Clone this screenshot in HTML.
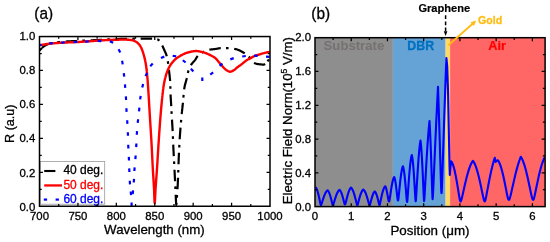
<!DOCTYPE html>
<html lang="en"><head><meta charset="utf-8"><title>Figure</title>
<style>html,body{margin:0;padding:0;background:#fff;width:550px;height:242px;overflow:hidden}</style>
</head><body>
<svg width="550" height="242" viewBox="0 0 550 242" style="display:block;position:absolute;left:0;top:0;filter:blur(0.35px)">
<rect width="550" height="242" fill="#fff"/>
<g transform="matrix(1,0,0,1.003,0,-0.111)">
<clipPath id="ca"><rect x="39.5" y="36.55" width="230.5" height="169.2"/></clipPath>
<g clip-path="url(#ca)">
<path d="M39.50,50.50 L39.82,50.10 L40.15,49.71 L40.48,49.33 L40.83,48.96 L41.18,48.60 L41.54,48.25 L41.90,47.91 L42.27,47.58 L42.65,47.27 L43.04,46.97 L43.43,46.68 L43.84,46.39 L44.25,46.11 L44.68,45.83 L45.11,45.56 L45.54,45.30 L45.99,45.05 L46.43,44.81 L46.89,44.59 L47.34,44.38 L47.80,44.19 L48.26,44.01 L48.72,43.86 L49.19,43.71 L49.66,43.56 L50.15,43.42 L50.63,43.29 L51.12,43.17 L51.61,43.05 L52.11,42.94 L52.60,42.84 L53.09,42.75 L53.59,42.66 L54.08,42.59 L54.57,42.52 L55.06,42.45 L55.56,42.39 L56.05,42.33 L56.55,42.27 L57.05,42.21 L57.54,42.16 L58.04,42.11 L58.54,42.06 L59.04,42.02 L59.54,41.97 L60.04,41.93 L60.54,41.89 L61.04,41.85 L61.53,41.81 L62.03,41.77 L62.53,41.73 L63.03,41.70 L63.53,41.66 L64.03,41.63 L64.53,41.60 L65.02,41.56 L65.52,41.53 L66.02,41.50 L66.52,41.47 L67.02,41.44 L67.52,41.41 L68.02,41.38 L68.51,41.36 L69.01,41.33 L69.51,41.30 L70.01,41.28 L70.51,41.25 L71.01,41.23 L71.51,41.20 L72.01,41.18 L72.51,41.15 L73.01,41.13 L73.51,41.10 L74.01,41.08 L74.51,41.06 L75.00,41.03 L75.50,41.01 L76.00,40.99 L76.50,40.97 L77.00,40.94 L77.50,40.92 L78.00,40.90 L78.50,40.87 L79.00,40.85 L79.50,40.82 L80.00,40.80 L80.50,40.78 L81.00,40.75 L81.49,40.73 L81.99,40.70 L82.49,40.68 L82.99,40.66 L83.49,40.64 L83.99,40.61 L84.49,40.59 L84.99,40.57 L85.49,40.55 L85.99,40.52 L86.49,40.50 L86.99,40.48 L87.49,40.46 L87.98,40.44 L88.48,40.42 L88.98,40.39 L89.48,40.37 L89.98,40.35 L90.48,40.33 L90.98,40.31 L91.48,40.29 L91.98,40.27 L92.48,40.24 L92.98,40.22 L93.48,40.20 L93.98,40.18 L94.47,40.16 L94.97,40.13 L95.47,40.11 L95.97,40.09 L96.47,40.07 L96.97,40.04 L97.47,40.02 L97.97,40.00 L98.47,39.97 L98.97,39.95 L99.47,39.93 L99.97,39.90 L100.46,39.88 L100.96,39.85 L101.46,39.82 L101.96,39.80 L102.46,39.77 L102.96,39.74 L103.46,39.71 L103.96,39.68 L104.46,39.65 L104.96,39.62 L105.45,39.59 L105.95,39.56 L106.45,39.53 L106.95,39.50 L107.45,39.47 L107.95,39.44 L108.45,39.41 L108.95,39.38 L109.45,39.35 L109.94,39.32 L110.44,39.30 L110.94,39.27 L111.44,39.24 L111.94,39.22 L112.44,39.20 L112.94,39.17 L113.44,39.15 L113.94,39.14 L114.44,39.12 L114.94,39.10 L115.43,39.09 L115.93,39.07 L116.43,39.06 L116.93,39.04 L117.43,39.03 L117.93,39.02 L118.43,39.00 L118.93,38.99 L119.43,38.98 L119.93,38.97 L120.43,38.96 L120.93,38.94 L121.43,38.93 L121.93,38.92 L122.43,38.91 L122.93,38.90 L123.43,38.89 L123.93,38.88 L124.43,38.87 L124.93,38.86 L125.43,38.85 L125.93,38.84 L126.42,38.83 L126.92,38.82 L127.42,38.81 L127.92,38.80 L128.42,38.80 L128.92,38.79 L129.42,38.78 L129.92,38.77 L130.42,38.76 L130.92,38.76 L131.42,38.75 L131.92,38.74 L132.42,38.73 L132.92,38.73 L133.42,38.72 L133.92,38.71 L134.42,38.71 L134.92,38.70 L135.42,38.69 L135.92,38.69 L136.42,38.68 L136.92,38.67 L137.42,38.67 L137.92,38.66 L138.42,38.65 L138.92,38.65 L139.42,38.64 L139.92,38.63 L140.42,38.63 L140.92,38.62 L141.42,38.62 L141.92,38.61 L142.42,38.61 L142.91,38.61 L143.41,38.60 L143.91,38.60 L144.41,38.60 L144.91,38.60 L145.41,38.60 L145.91,38.60 L146.41,38.60 L146.91,38.61 L147.41,38.61 L147.91,38.62 L148.41,38.63 L148.91,38.63 L149.41,38.64 L149.91,38.65 L150.41,38.66 L150.91,38.67 L151.41,38.69 L151.91,38.70 L152.41,38.71 L152.92,38.74 L153.43,38.76 L153.94,38.80 L154.45,38.85 L154.96,38.90 L155.46,38.96 L155.95,39.02 L156.43,39.10 L156.89,39.18 L157.35,39.29 L157.80,39.48 L158.26,39.73 L158.70,40.02 L159.12,40.35 L159.51,40.70 L159.86,41.05 L160.16,41.39 L160.44,41.77 L160.69,42.19 L160.92,42.63 L161.15,43.09 L161.36,43.56 L161.57,44.04 L161.78,44.51 L161.99,44.98 L162.21,45.43 L162.43,45.88 L162.64,46.33 L162.85,46.78 L163.06,47.23 L163.27,47.69 L163.48,48.14 L163.68,48.60 L163.89,49.06 L164.09,49.51 L164.29,49.97 L164.49,50.43 L164.70,50.89 L164.91,51.34 L165.12,51.80 L165.33,52.26 L165.53,52.72 L165.73,53.18 L165.92,53.64 L166.10,54.10 L166.27,54.57 L166.42,55.04 L166.56,55.52 L166.69,55.99 L166.81,56.48 L166.93,56.96 L167.05,57.44 L167.16,57.93 L167.26,58.42 L167.36,58.91 L167.46,59.41 L167.56,59.90 L167.65,60.40 L167.73,60.89 L167.82,61.38 L167.90,61.88 L167.98,62.37 L168.06,62.86 L168.13,63.36 L168.20,63.85 L168.27,64.35 L168.34,64.84 L168.40,65.34 L168.47,65.83 L168.53,66.33 L168.59,66.82 L168.65,67.32 L168.71,67.82 L168.76,68.32 L168.82,68.81 L168.88,69.31 L168.93,69.81 L168.99,70.30 L169.05,70.80 L169.10,71.30 L169.16,71.79 L169.22,72.29 L169.28,72.78 L169.34,73.28 L169.40,73.78 L169.46,74.28 L169.52,74.77 L169.57,75.27 L169.63,75.77 L169.69,76.26 L169.74,76.76 L169.79,77.26 L169.85,77.75 L169.90,78.25 L169.94,78.75 L169.99,79.25 L170.03,79.74 L170.07,80.24 L170.11,80.74 L170.14,81.24 L170.17,81.74 L170.20,82.23 L170.22,82.73 L170.24,83.23 L170.26,83.73 L170.28,84.23 L170.30,84.73 L170.32,85.23 L170.33,85.73 L170.35,86.23 L170.36,86.73 L170.37,87.23 L170.39,87.73 L170.40,88.23 L170.41,88.72 L170.43,89.22 L170.44,89.72 L170.45,90.22 L170.46,90.72 L170.48,91.22 L170.49,91.72 L170.50,92.22 L170.52,92.72 L170.53,93.22 L170.55,93.72 L170.57,94.22 L170.59,94.72 L170.61,95.22 L170.63,95.72 L170.65,96.22 L170.68,96.72 L170.71,97.22 L170.73,97.72 L170.76,98.21 L170.79,98.71 L170.82,99.21 L170.85,99.71 L170.88,100.21 L170.91,100.71 L170.94,101.21 L170.98,101.71 L171.01,102.20 L171.04,102.70 L171.07,103.20 L171.10,103.70 L171.14,104.20 L171.17,104.70 L171.20,105.20 L171.23,105.70 L171.26,106.19 L171.29,106.69 L171.32,107.19 L171.34,107.69 L171.37,108.19 L171.40,108.69 L171.43,109.19 L171.45,109.69 L171.48,110.19 L171.51,110.69 L171.53,111.18 L171.56,111.68 L171.59,112.18 L171.61,112.68 L171.64,113.18 L171.67,113.68 L171.69,114.18 L171.72,114.68 L171.75,115.18 L171.77,115.68 L171.80,116.17 L171.83,116.67 L171.85,117.17 L171.88,117.67 L171.91,118.17 L171.94,118.67 L171.96,119.17 L171.99,119.67 L172.02,120.17 L172.05,120.66 L172.08,121.16 L172.11,121.66 L172.14,122.16 L172.17,122.66 L172.20,123.16 L172.23,123.66 L172.26,124.16 L172.29,124.66 L172.32,125.15 L172.35,125.65 L172.39,126.15 L172.42,126.65 L172.45,127.15 L172.48,127.65 L172.51,128.15 L172.54,128.65 L172.56,129.14 L172.59,129.64 L172.62,130.14 L172.65,130.64 L172.67,131.14 L172.70,131.64 L172.72,132.14 L172.75,132.64 L172.77,133.14 L172.79,133.64 L172.81,134.14 L172.83,134.63 L172.86,135.13 L172.88,135.63 L172.90,136.13 L172.92,136.63 L172.94,137.13 L172.96,137.63 L172.98,138.13 L173.00,138.63 L173.02,139.13 L173.04,139.63 L173.06,140.13 L173.07,140.63 L173.09,141.13 L173.11,141.62 L173.13,142.12 L173.15,142.62 L173.17,143.12 L173.20,143.62 L173.22,144.12 L173.24,144.62 L173.26,145.12 L173.28,145.62 L173.31,146.12 L173.33,146.62 L173.35,147.12 L173.38,147.62 L173.40,148.11 L173.43,148.61 L173.45,149.11 L173.48,149.61 L173.50,150.11 L173.53,150.61 L173.55,151.11 L173.58,151.61 L173.60,152.11 L173.63,152.61 L173.66,153.11 L173.68,153.60 L173.71,154.10 L173.74,154.60 L173.76,155.10 L173.79,155.60 L173.82,156.10 L173.84,156.60 L173.87,157.10 L173.90,157.60 L173.92,158.10 L173.95,158.59 L173.98,159.09 L174.00,159.59 L174.03,160.09 L174.06,160.59 L174.08,161.09 L174.11,161.59 L174.13,162.09 L174.16,162.59 L174.18,163.09 L174.21,163.58 L174.23,164.08 L174.26,164.58 L174.28,165.08 L174.31,165.58 L174.34,166.08 L174.36,166.58 L174.39,167.08 L174.41,167.58 L174.44,168.08 L174.46,168.58 L174.49,169.07 L174.51,169.57 L174.53,170.07 L174.56,170.57 L174.58,171.07 L174.61,171.57 L174.63,172.07 L174.66,172.57 L174.68,173.07 L174.71,173.57 L174.73,174.07 L174.76,174.56 L174.78,175.06 L174.81,175.56 L174.83,176.06 L174.85,176.56 L174.88,177.06 L174.90,177.56 L174.93,178.06 L174.95,178.56 L174.97,179.06 L175.00,179.56 L175.02,180.06 L175.05,180.55 L175.07,181.05 L175.09,181.55 L175.12,182.05 L175.14,182.55 L175.16,183.05 L175.18,183.55 L175.21,184.05 L175.23,184.55 L175.25,185.05 L175.27,185.55 L175.29,186.05 L175.31,186.55 L175.33,187.04 L175.35,187.54 L175.37,188.04 L175.40,188.54 L175.42,189.04 L175.44,189.54 L175.46,190.04 L175.48,190.54 L175.50,191.04 L175.53,191.54 L175.55,192.04 L175.57,192.54 L175.60,193.04 L175.62,193.53 L175.65,194.03 L175.67,194.53 L175.70,195.03 L175.73,195.56 L175.76,196.13 L175.79,196.74 L175.82,197.38 L175.85,198.03 L175.88,198.70 L175.92,199.36 L175.95,200.01 L175.98,200.65 L176.02,201.26 L176.05,201.83 L176.09,202.35 L176.12,202.82 L176.16,203.22 L176.19,203.55 L176.23,203.79 L176.27,203.95 L176.30,204.00 L176.34,203.96 L176.37,203.84 L176.41,203.65 L176.44,203.39 L176.48,203.07 L176.52,202.69 L176.56,202.26 L176.59,201.79 L176.63,201.27 L176.67,200.71 L176.71,200.13 L176.75,199.52 L176.78,198.89 L176.82,198.24 L176.86,197.58 L176.90,196.92 L176.94,196.25 L176.97,195.59 L177.01,194.95 L177.05,194.31 L177.09,193.70 L177.12,193.11 L177.16,192.56 L177.20,192.03 L177.23,191.54 L177.27,191.04 L177.31,190.54 L177.35,190.04 L177.39,189.54 L177.43,189.04 L177.46,188.55 L177.50,188.05 L177.54,187.55 L177.57,187.05 L177.61,186.55 L177.64,186.05 L177.67,185.56 L177.70,185.06 L177.72,184.56 L177.75,184.06 L177.77,183.56 L177.80,183.06 L177.82,182.56 L177.84,182.06 L177.87,181.56 L177.89,181.06 L177.91,180.56 L177.93,180.07 L177.95,179.57 L177.97,179.07 L177.99,178.57 L178.01,178.07 L178.03,177.57 L178.04,177.07 L178.06,176.57 L178.08,176.07 L178.10,175.57 L178.12,175.07 L178.13,174.57 L178.15,174.07 L178.17,173.57 L178.19,173.07 L178.21,172.57 L178.22,172.07 L178.24,171.58 L178.26,171.08 L178.28,170.58 L178.30,170.08 L178.32,169.58 L178.33,169.08 L178.35,168.58 L178.37,168.08 L178.39,167.58 L178.40,167.08 L178.42,166.58 L178.44,166.08 L178.46,165.58 L178.47,165.08 L178.49,164.58 L178.51,164.08 L178.52,163.58 L178.54,163.09 L178.56,162.59 L178.57,162.09 L178.59,161.59 L178.61,161.09 L178.63,160.59 L178.64,160.09 L178.66,159.59 L178.68,159.09 L178.70,158.59 L178.72,158.09 L178.74,157.59 L178.76,157.09 L178.78,156.59 L178.80,156.09 L178.82,155.59 L178.84,155.10 L178.86,154.60 L178.88,154.10 L178.91,153.60 L178.93,153.10 L178.96,152.60 L178.98,152.10 L179.01,151.60 L179.03,151.10 L179.06,150.60 L179.08,150.10 L179.11,149.61 L179.14,149.11 L179.16,148.61 L179.19,148.11 L179.22,147.61 L179.24,147.11 L179.27,146.61 L179.29,146.11 L179.32,145.61 L179.35,145.11 L179.37,144.61 L179.40,144.12 L179.42,143.62 L179.45,143.12 L179.48,142.62 L179.50,142.12 L179.53,141.62 L179.56,141.12 L179.59,140.62 L179.61,140.12 L179.64,139.63 L179.67,139.13 L179.70,138.63 L179.74,138.13 L179.77,137.63 L179.80,137.13 L179.83,136.63 L179.87,136.13 L179.90,135.64 L179.94,135.14 L179.97,134.64 L180.01,134.14 L180.04,133.64 L180.08,133.14 L180.12,132.65 L180.15,132.15 L180.19,131.65 L180.23,131.15 L180.27,130.65 L180.31,130.15 L180.35,129.66 L180.38,129.16 L180.42,128.66 L180.46,128.16 L180.50,127.66 L180.54,127.16 L180.58,126.67 L180.63,126.17 L180.67,125.67 L180.71,125.17 L180.76,124.68 L180.80,124.18 L180.85,123.68 L180.89,123.18 L180.94,122.68 L180.98,122.19 L181.02,121.69 L181.07,121.19 L181.11,120.69 L181.15,120.20 L181.19,119.70 L181.23,119.20 L181.27,118.70 L181.31,118.20 L181.35,117.70 L181.39,117.21 L181.43,116.71 L181.47,116.21 L181.52,115.71 L181.56,115.22 L181.61,114.72 L181.66,114.22 L181.70,113.72 L181.76,113.23 L181.81,112.73 L181.86,112.23 L181.92,111.74 L181.97,111.24 L182.03,110.74 L182.08,110.25 L182.14,109.75 L182.20,109.25 L182.26,108.76 L182.31,108.26 L182.37,107.76 L182.43,107.27 L182.49,106.77 L182.54,106.27 L182.60,105.78 L182.65,105.28 L182.71,104.78 L182.76,104.29 L182.81,103.79 L182.86,103.29 L182.91,102.80 L182.96,102.30 L183.00,101.80 L183.05,101.30 L183.09,100.80 L183.13,100.31 L183.17,99.81 L183.21,99.31 L183.25,98.81 L183.30,98.31 L183.34,97.82 L183.38,97.32 L183.42,96.82 L183.47,96.32 L183.52,95.83 L183.56,95.33 L183.61,94.83 L183.65,94.33 L183.70,93.83 L183.74,93.33 L183.79,92.83 L183.84,92.34 L183.88,91.84 L183.93,91.34 L183.99,90.84 L184.04,90.35 L184.10,89.85 L184.16,89.36 L184.22,88.86 L184.29,88.37 L184.36,87.88 L184.45,87.39 L184.54,86.90 L184.63,86.41 L184.74,85.92 L184.85,85.44 L184.96,84.95 L185.08,84.47 L185.21,83.98 L185.34,83.50 L185.47,83.01 L185.60,82.53 L185.73,82.05 L185.87,81.56 L186.00,81.08 L186.13,80.60 L186.26,80.11 L186.39,79.63 L186.52,79.14 L186.65,78.66 L186.77,78.17 L186.88,77.69 L186.99,77.20 L187.09,76.71 L187.19,76.22 L187.29,75.72 L187.38,75.23 L187.48,74.73 L187.57,74.24 L187.67,73.75 L187.77,73.25 L187.87,72.77 L187.98,72.28 L188.10,71.80 L188.22,71.32 L188.36,70.84 L188.50,70.37 L188.66,69.90 L188.83,69.44 L189.01,68.97 L189.21,68.50 L189.41,68.04 L189.62,67.58 L189.84,67.12 L190.07,66.67 L190.31,66.22 L190.55,65.78 L190.79,65.35 L191.04,64.92 L191.30,64.50 L191.57,64.09 L191.85,63.69 L192.16,63.30 L192.48,62.92 L192.81,62.54 L193.14,62.16 L193.48,61.79 L193.82,61.41 L194.15,61.03 L194.48,60.65 L194.80,60.26 L195.10,59.87 L195.39,59.45 L195.67,59.03 L195.94,58.60 L196.21,58.16 L196.47,57.72 L196.74,57.29 L197.01,56.86 L197.28,56.43 L197.56,56.02 L197.86,55.63 L198.17,55.26 L198.49,54.91 L198.84,54.58 L199.21,54.26 L199.60,53.95 L200.01,53.65 L200.43,53.37 L200.87,53.09 L201.31,52.83 L201.75,52.59 L202.19,52.36 L202.63,52.14 L203.07,51.92 L203.52,51.71 L203.98,51.50 L204.44,51.29 L204.90,51.09 L205.37,50.90 L205.84,50.71 L206.32,50.53 L206.80,50.36 L207.28,50.20 L207.76,50.05 L208.24,49.92 L208.72,49.80 L209.21,49.69 L209.69,49.60 L210.18,49.52 L210.67,49.46 L211.16,49.40 L211.66,49.34 L212.16,49.29 L212.66,49.25 L213.16,49.20 L213.66,49.15 L214.16,49.10 L214.66,49.04 L215.15,48.98 L215.65,48.91 L216.14,48.82 L216.63,48.73 L217.13,48.64 L217.62,48.54 L218.11,48.45 L218.61,48.36 L219.10,48.28 L219.60,48.21 L220.09,48.16 L220.59,48.12 L221.08,48.10 L221.58,48.09 L222.08,48.07 L222.58,48.06 L223.08,48.05 L223.58,48.04 L224.08,48.04 L224.58,48.03 L225.08,48.02 L225.58,48.02 L226.08,48.01 L226.58,48.01 L227.08,48.00 L227.58,48.00 L228.08,48.00 L228.58,48.00 L229.08,48.01 L229.58,48.04 L230.08,48.08 L230.58,48.13 L231.08,48.19 L231.58,48.26 L232.08,48.34 L232.58,48.43 L233.07,48.52 L233.57,48.62 L234.06,48.72 L234.54,48.82 L235.03,48.93 L235.51,49.03 L235.98,49.14 L236.46,49.26 L236.93,49.40 L237.40,49.55 L237.87,49.72 L238.34,49.89 L238.81,50.08 L239.27,50.28 L239.74,50.49 L240.20,50.71 L240.65,50.94 L241.11,51.17 L241.56,51.41 L242.00,51.65 L242.44,51.90 L242.88,52.15 L243.31,52.41 L243.74,52.66 L244.16,52.92 L244.58,53.17 L244.99,53.44 L245.40,53.73 L245.81,54.02 L246.21,54.33 L246.61,54.64 L247.00,54.96 L247.38,55.29 L247.76,55.62 L248.13,55.96 L248.49,56.31 L248.85,56.65 L249.19,57.01 L249.52,57.39 L249.83,57.80 L250.14,58.23 L250.43,58.67 L250.72,59.11 L251.01,59.56 L251.30,60.00 L251.59,60.43 L251.89,60.85 L252.19,61.24 L252.51,61.61 L252.85,61.94 L253.20,62.23 L253.57,62.48 L253.97,62.70 L254.40,62.91 L254.85,63.11 L255.32,63.30 L255.81,63.47 L256.31,63.63 L256.82,63.76 L257.32,63.88 L257.81,63.97 L258.30,64.04 L258.79,64.11 L259.29,64.18 L259.79,64.24 L260.29,64.29 L260.80,64.35 L261.30,64.39 L261.80,64.43 L262.30,64.46 L262.80,64.48 L263.29,64.50 L263.78,64.50 L264.26,64.40 L264.73,64.21 L265.20,64.00" fill="none" stroke="#000" stroke-width="2.2" stroke-dasharray="11.5 5.2 2.6 5.7" stroke-dashoffset="21.3"/>
<path d="M39.5,50.5L42.0,47.9" stroke="#000" stroke-width="2.1" fill="none"/>
<path d="M39.50,45.20 L39.99,45.12 L40.49,45.05 L40.98,44.97 L41.48,44.89 L41.97,44.81 L42.46,44.74 L42.96,44.66 L43.45,44.58 L43.94,44.51 L44.44,44.43 L44.93,44.35 L45.43,44.27 L45.92,44.19 L46.41,44.11 L46.91,44.03 L47.40,43.96 L47.90,43.89 L48.39,43.82 L48.89,43.77 L49.38,43.71 L49.88,43.66 L50.38,43.60 L50.87,43.55 L51.37,43.50 L51.87,43.45 L52.37,43.40 L52.86,43.35 L53.36,43.31 L53.86,43.26 L54.36,43.22 L54.86,43.18 L55.35,43.13 L55.85,43.09 L56.35,43.05 L56.85,43.02 L57.35,42.98 L57.85,42.94 L58.35,42.91 L58.84,42.87 L59.34,42.84 L59.84,42.81 L60.34,42.78 L60.84,42.75 L61.34,42.72 L61.84,42.69 L62.34,42.67 L62.83,42.64 L63.33,42.61 L63.83,42.59 L64.33,42.57 L64.83,42.54 L65.33,42.52 L65.83,42.50 L66.33,42.48 L66.83,42.45 L67.33,42.43 L67.83,42.41 L68.33,42.39 L68.83,42.37 L69.33,42.35 L69.83,42.33 L70.33,42.31 L70.82,42.29 L71.32,42.27 L71.82,42.25 L72.32,42.23 L72.82,42.21 L73.32,42.19 L73.82,42.17 L74.32,42.15 L74.82,42.13 L75.32,42.11 L75.82,42.09 L76.32,42.06 L76.82,42.04 L77.32,42.02 L77.82,41.99 L78.32,41.97 L78.82,41.94 L79.31,41.92 L79.81,41.89 L80.31,41.86 L80.81,41.83 L81.31,41.80 L81.81,41.77 L82.31,41.74 L82.81,41.71 L83.31,41.68 L83.80,41.64 L84.30,41.61 L84.80,41.58 L85.30,41.54 L85.80,41.51 L86.30,41.47 L86.80,41.44 L87.29,41.40 L87.79,41.37 L88.29,41.33 L88.79,41.30 L89.29,41.26 L89.79,41.22 L90.29,41.19 L90.78,41.15 L91.28,41.11 L91.78,41.08 L92.28,41.04 L92.78,41.00 L93.28,40.97 L93.78,40.93 L94.27,40.89 L94.77,40.86 L95.27,40.82 L95.77,40.79 L96.27,40.75 L96.77,40.72 L97.27,40.68 L97.76,40.65 L98.26,40.61 L98.76,40.58 L99.26,40.55 L99.76,40.52 L100.26,40.48 L100.76,40.45 L101.26,40.42 L101.75,40.38 L102.25,40.35 L102.75,40.31 L103.25,40.28 L103.75,40.24 L104.25,40.21 L104.75,40.18 L105.25,40.14 L105.74,40.11 L106.24,40.08 L106.74,40.05 L107.24,40.02 L107.74,40.00 L108.24,39.97 L108.74,39.95 L109.24,39.93 L109.74,39.91 L110.24,39.89 L110.74,39.88 L111.24,39.86 L111.73,39.85 L112.23,39.83 L112.73,39.82 L113.23,39.80 L113.73,39.79 L114.23,39.77 L114.73,39.76 L115.23,39.75 L115.73,39.73 L116.23,39.72 L116.73,39.71 L117.23,39.70 L117.73,39.69 L118.23,39.68 L118.73,39.67 L119.23,39.66 L119.73,39.65 L120.23,39.64 L120.73,39.63 L121.23,39.62 L121.73,39.62 L122.23,39.61 L122.73,39.61 L123.23,39.61 L123.73,39.60 L124.23,39.60 L124.73,39.60 L125.23,39.60 L125.73,39.61 L126.23,39.62 L126.74,39.64 L127.25,39.67 L127.75,39.70 L128.26,39.74 L128.76,39.78 L129.27,39.82 L129.77,39.88 L130.26,39.93 L130.76,39.99 L131.25,40.05 L131.73,40.12 L132.21,40.19 L132.68,40.27 L133.16,40.40 L133.64,40.56 L134.11,40.75 L134.58,40.97 L135.04,41.21 L135.49,41.46 L135.93,41.72 L136.35,41.99 L136.75,42.26 L137.13,42.54 L137.51,42.85 L137.89,43.18 L138.26,43.53 L138.61,43.90 L138.96,44.29 L139.29,44.68 L139.61,45.09 L139.91,45.50 L140.19,45.91 L140.45,46.32 L140.70,46.74 L140.93,47.17 L141.15,47.61 L141.36,48.06 L141.57,48.51 L141.77,48.98 L141.95,49.45 L142.14,49.92 L142.31,50.40 L142.48,50.88 L142.65,51.36 L142.81,51.84 L142.97,52.31 L143.13,52.78 L143.28,53.26 L143.43,53.73 L143.57,54.21 L143.72,54.69 L143.85,55.17 L143.99,55.66 L144.12,56.14 L144.25,56.62 L144.38,57.11 L144.50,57.60 L144.62,58.08 L144.73,58.57 L144.84,59.06 L144.95,59.54 L145.05,60.03 L145.15,60.52 L145.25,61.01 L145.34,61.50 L145.44,61.99 L145.53,62.48 L145.62,62.97 L145.71,63.47 L145.79,63.96 L145.88,64.45 L145.96,64.95 L146.04,65.44 L146.12,65.94 L146.19,66.43 L146.26,66.93 L146.33,67.42 L146.40,67.92 L146.46,68.41 L146.53,68.91 L146.59,69.40 L146.64,69.90 L146.70,70.39 L146.76,70.89 L146.81,71.39 L146.87,71.88 L146.92,72.38 L146.97,72.88 L147.02,73.38 L147.07,73.87 L147.11,74.37 L147.16,74.87 L147.21,75.37 L147.25,75.87 L147.29,76.36 L147.34,76.86 L147.38,77.36 L147.42,77.86 L147.47,78.36 L147.51,78.86 L147.55,79.35 L147.59,79.85 L147.63,80.35 L147.67,80.85 L147.71,81.35 L147.74,81.84 L147.78,82.34 L147.82,82.84 L147.85,83.34 L147.89,83.84 L147.92,84.34 L147.96,84.84 L147.99,85.33 L148.03,85.83 L148.06,86.33 L148.09,86.83 L148.13,87.33 L148.16,87.83 L148.19,88.33 L148.22,88.83 L148.26,89.32 L148.29,89.82 L148.32,90.32 L148.35,90.82 L148.39,91.32 L148.42,91.82 L148.45,92.32 L148.48,92.82 L148.51,93.31 L148.54,93.81 L148.58,94.31 L148.61,94.81 L148.64,95.31 L148.67,95.81 L148.70,96.31 L148.73,96.81 L148.76,97.31 L148.79,97.80 L148.82,98.30 L148.85,98.80 L148.88,99.30 L148.91,99.80 L148.94,100.30 L148.97,100.80 L149.00,101.30 L149.03,101.80 L149.06,102.30 L149.09,102.79 L149.12,103.29 L149.15,103.79 L149.18,104.29 L149.21,104.79 L149.23,105.29 L149.26,105.79 L149.29,106.29 L149.32,106.79 L149.35,107.28 L149.38,107.78 L149.41,108.28 L149.44,108.78 L149.47,109.28 L149.50,109.78 L149.53,110.28 L149.56,110.78 L149.59,111.28 L149.62,111.78 L149.65,112.27 L149.68,112.77 L149.71,113.27 L149.74,113.77 L149.77,114.27 L149.80,114.77 L149.83,115.27 L149.86,115.77 L149.89,116.27 L149.92,116.76 L149.95,117.26 L149.98,117.76 L150.01,118.26 L150.04,118.76 L150.07,119.26 L150.11,119.76 L150.14,120.26 L150.17,120.76 L150.20,121.25 L150.23,121.75 L150.26,122.25 L150.29,122.75 L150.32,123.25 L150.36,123.75 L150.39,124.25 L150.42,124.75 L150.45,125.24 L150.48,125.74 L150.51,126.24 L150.54,126.74 L150.58,127.24 L150.61,127.74 L150.64,128.24 L150.67,128.74 L150.70,129.24 L150.73,129.73 L150.76,130.23 L150.79,130.73 L150.82,131.23 L150.86,131.73 L150.89,132.23 L150.92,132.73 L150.95,133.23 L150.98,133.73 L151.01,134.22 L151.04,134.72 L151.07,135.22 L151.10,135.72 L151.13,136.22 L151.16,136.72 L151.19,137.22 L151.22,137.72 L151.25,138.22 L151.28,138.71 L151.31,139.21 L151.34,139.71 L151.36,140.21 L151.39,140.71 L151.42,141.21 L151.45,141.71 L151.48,142.21 L151.51,142.71 L151.53,143.21 L151.56,143.70 L151.59,144.20 L151.62,144.70 L151.64,145.20 L151.67,145.70 L151.70,146.20 L151.72,146.70 L151.75,147.20 L151.77,147.70 L151.80,148.20 L151.82,148.70 L151.85,149.19 L151.88,149.69 L151.90,150.19 L151.93,150.69 L151.95,151.19 L151.98,151.69 L152.00,152.19 L152.02,152.69 L152.05,153.19 L152.07,153.69 L152.10,154.19 L152.12,154.69 L152.15,155.19 L152.17,155.68 L152.20,156.18 L152.22,156.68 L152.25,157.18 L152.27,157.68 L152.30,158.18 L152.32,158.68 L152.34,159.18 L152.37,159.68 L152.39,160.18 L152.42,160.68 L152.44,161.18 L152.47,161.67 L152.49,162.17 L152.52,162.67 L152.55,163.17 L152.57,163.67 L152.60,164.17 L152.62,164.67 L152.65,165.17 L152.67,165.67 L152.70,166.17 L152.73,166.67 L152.75,167.17 L152.78,167.66 L152.81,168.16 L152.84,168.66 L152.86,169.16 L152.89,169.66 L152.92,170.16 L152.95,170.66 L152.98,171.16 L153.01,171.66 L153.04,172.16 L153.07,172.65 L153.10,173.15 L153.13,173.65 L153.16,174.15 L153.19,174.65 L153.23,175.15 L153.26,175.65 L153.29,176.15 L153.32,176.64 L153.36,177.14 L153.39,177.64 L153.42,178.14 L153.45,178.64 L153.49,179.14 L153.52,179.64 L153.55,180.14 L153.58,180.64 L153.62,181.13 L153.65,181.63 L153.68,182.13 L153.71,182.63 L153.74,183.13 L153.77,183.63 L153.80,184.13 L153.83,184.63 L153.86,185.12 L153.89,185.62 L153.92,186.12 L153.95,186.62 L153.97,187.12 L154.00,187.62 L154.03,188.14 L154.05,188.68 L154.08,189.26 L154.10,189.85 L154.13,190.47 L154.15,191.10 L154.17,191.75 L154.20,192.40 L154.22,193.07 L154.24,193.73 L154.26,194.40 L154.29,195.06 L154.31,195.71 L154.33,196.36 L154.35,196.99 L154.38,197.60 L154.40,198.19 L154.42,198.76 L154.44,199.30 L154.46,199.81 L154.49,200.29 L154.51,200.73 L154.53,201.13 L154.56,201.48 L154.58,201.79 L154.60,202.05 L154.63,202.25 L154.65,202.39 L154.68,202.48 L154.71,202.50 L154.73,202.45 L154.76,202.34 L154.79,202.18 L154.81,201.95 L154.84,201.68 L154.87,201.35 L154.90,200.98 L154.93,200.56 L154.96,200.11 L154.98,199.62 L155.01,199.10 L155.04,198.54 L155.07,197.97 L155.10,197.37 L155.13,196.75 L155.16,196.11 L155.20,195.46 L155.23,194.81 L155.26,194.14 L155.29,193.48 L155.32,192.82 L155.35,192.16 L155.38,191.50 L155.42,190.86 L155.45,190.24 L155.48,189.63 L155.51,189.04 L155.55,188.48 L155.58,187.94 L155.61,187.44 L155.64,186.94 L155.68,186.44 L155.71,185.94 L155.75,185.44 L155.78,184.94 L155.82,184.44 L155.85,183.94 L155.89,183.45 L155.93,182.95 L155.96,182.45 L156.00,181.95 L156.04,181.45 L156.08,180.95 L156.11,180.46 L156.15,179.96 L156.19,179.46 L156.23,178.96 L156.26,178.46 L156.30,177.96 L156.34,177.47 L156.38,176.97 L156.42,176.47 L156.45,175.97 L156.49,175.47 L156.53,174.97 L156.57,174.47 L156.60,173.98 L156.64,173.48 L156.68,172.98 L156.71,172.48 L156.75,171.98 L156.78,171.48 L156.82,170.99 L156.85,170.49 L156.89,169.99 L156.92,169.49 L156.95,168.99 L156.99,168.49 L157.02,167.99 L157.05,167.49 L157.09,167.00 L157.12,166.50 L157.15,166.00 L157.18,165.50 L157.21,165.00 L157.25,164.50 L157.28,164.00 L157.31,163.50 L157.34,163.01 L157.37,162.51 L157.40,162.01 L157.43,161.51 L157.46,161.01 L157.49,160.51 L157.52,160.01 L157.55,159.51 L157.58,159.01 L157.61,158.52 L157.64,158.02 L157.67,157.52 L157.70,157.02 L157.73,156.52 L157.76,156.02 L157.79,155.52 L157.82,155.02 L157.85,154.52 L157.88,154.03 L157.91,153.53 L157.94,153.03 L157.97,152.53 L158.00,152.03 L158.03,151.53 L158.06,151.03 L158.10,150.53 L158.13,150.03 L158.16,149.54 L158.19,149.04 L158.22,148.54 L158.25,148.04 L158.28,147.54 L158.31,147.04 L158.34,146.54 L158.38,146.04 L158.41,145.54 L158.44,145.05 L158.47,144.55 L158.50,144.05 L158.54,143.55 L158.57,143.05 L158.60,142.55 L158.64,142.05 L158.67,141.55 L158.70,141.06 L158.74,140.56 L158.77,140.06 L158.80,139.56 L158.84,139.06 L158.87,138.56 L158.90,138.06 L158.94,137.56 L158.97,137.07 L159.00,136.57 L159.04,136.07 L159.07,135.57 L159.11,135.07 L159.14,134.57 L159.17,134.07 L159.21,133.58 L159.24,133.08 L159.28,132.58 L159.31,132.08 L159.35,131.58 L159.38,131.08 L159.41,130.58 L159.45,130.08 L159.48,129.59 L159.52,129.09 L159.55,128.59 L159.59,128.09 L159.63,127.59 L159.66,127.09 L159.70,126.59 L159.73,126.10 L159.77,125.60 L159.80,125.10 L159.84,124.60 L159.88,124.10 L159.91,123.60 L159.95,123.10 L159.99,122.61 L160.03,122.11 L160.06,121.61 L160.10,121.11 L160.14,120.61 L160.18,120.11 L160.22,119.62 L160.25,119.12 L160.29,118.62 L160.33,118.12 L160.37,117.62 L160.41,117.13 L160.45,116.63 L160.49,116.13 L160.53,115.63 L160.57,115.13 L160.61,114.63 L160.65,114.14 L160.70,113.64 L160.74,113.14 L160.78,112.64 L160.82,112.14 L160.86,111.65 L160.91,111.15 L160.95,110.65 L160.99,110.15 L161.04,109.65 L161.08,109.16 L161.13,108.66 L161.17,108.16 L161.21,107.66 L161.26,107.16 L161.31,106.67 L161.35,106.17 L161.40,105.67 L161.44,105.17 L161.49,104.68 L161.54,104.18 L161.58,103.68 L161.63,103.18 L161.68,102.69 L161.73,102.19 L161.78,101.69 L161.83,101.19 L161.88,100.70 L161.93,100.20 L161.98,99.70 L162.03,99.20 L162.08,98.71 L162.13,98.21 L162.18,97.71 L162.24,97.22 L162.29,96.72 L162.34,96.22 L162.40,95.73 L162.45,95.23 L162.51,94.73 L162.56,94.23 L162.61,93.74 L162.67,93.24 L162.72,92.74 L162.78,92.24 L162.84,91.75 L162.89,91.25 L162.95,90.75 L163.01,90.26 L163.07,89.76 L163.13,89.26 L163.20,88.77 L163.26,88.27 L163.33,87.78 L163.40,87.28 L163.47,86.79 L163.54,86.29 L163.62,85.80 L163.70,85.31 L163.78,84.82 L163.86,84.33 L163.95,83.83 L164.04,83.34 L164.13,82.85 L164.23,82.36 L164.33,81.86 L164.43,81.37 L164.53,80.88 L164.64,80.39 L164.75,79.90 L164.86,79.41 L164.97,78.92 L165.09,78.43 L165.21,77.94 L165.34,77.46 L165.46,76.97 L165.59,76.49 L165.72,76.01 L165.86,75.53 L166.00,75.05 L166.14,74.57 L166.28,74.10 L166.43,73.63 L166.58,73.16 L166.74,72.68 L166.90,72.21 L167.07,71.74 L167.25,71.27 L167.44,70.80 L167.63,70.34 L167.83,69.87 L168.04,69.41 L168.25,68.95 L168.47,68.50 L168.69,68.04 L168.92,67.60 L169.15,67.16 L169.39,66.72 L169.63,66.29 L169.88,65.87 L170.13,65.45 L170.40,65.03 L170.67,64.61 L170.95,64.20 L171.25,63.79 L171.55,63.38 L171.85,62.97 L172.17,62.57 L172.49,62.18 L172.81,61.79 L173.15,61.41 L173.49,61.03 L173.83,60.66 L174.17,60.31 L174.52,59.96 L174.88,59.62 L175.24,59.28 L175.61,58.96 L175.99,58.64 L176.38,58.33 L176.78,58.02 L177.19,57.72 L177.61,57.43 L178.03,57.15 L178.45,56.88 L178.88,56.61 L179.30,56.36 L179.73,56.11 L180.16,55.86 L180.59,55.61 L181.03,55.37 L181.48,55.12 L181.92,54.88 L182.37,54.65 L182.82,54.42 L183.28,54.19 L183.73,53.98 L184.19,53.77 L184.66,53.57 L185.12,53.37 L185.59,53.19 L186.05,53.02 L186.52,52.86 L186.99,52.72 L187.46,52.58 L187.94,52.45 L188.42,52.32 L188.90,52.20 L189.38,52.07 L189.87,51.94 L190.36,51.82 L190.86,51.70 L191.35,51.59 L191.85,51.48 L192.34,51.38 L192.84,51.29 L193.34,51.21 L193.84,51.15 L194.33,51.09 L194.83,51.04 L195.33,51.02 L195.82,51.00 L196.31,51.00 L196.81,51.02 L197.30,51.06 L197.80,51.12 L198.30,51.18 L198.79,51.26 L199.29,51.35 L199.79,51.45 L200.28,51.55 L200.77,51.66 L201.27,51.78 L201.75,51.90 L202.24,52.02 L202.72,52.13 L203.20,52.25 L203.68,52.38 L204.16,52.52 L204.63,52.67 L205.10,52.83 L205.58,53.01 L206.04,53.19 L206.51,53.38 L206.98,53.57 L207.44,53.77 L207.90,53.97 L208.36,54.18 L208.82,54.39 L209.27,54.60 L209.72,54.81 L210.17,55.02 L210.63,55.24 L211.08,55.46 L211.54,55.69 L211.99,55.92 L212.44,56.16 L212.88,56.41 L213.31,56.66 L213.74,56.92 L214.15,57.19 L214.56,57.47 L214.95,57.76 L215.32,58.06 L215.68,58.38 L216.04,58.73 L216.38,59.08 L216.71,59.45 L217.04,59.83 L217.37,60.22 L217.69,60.61 L218.01,61.01 L218.33,61.40 L218.65,61.80 L218.98,62.19 L219.31,62.57 L219.64,62.94 L219.98,63.31 L220.32,63.68 L220.65,64.07 L220.99,64.45 L221.32,64.85 L221.65,65.24 L221.98,65.63 L222.31,66.03 L222.64,66.42 L222.98,66.80 L223.31,67.18 L223.66,67.55 L224.00,67.92 L224.36,68.27 L224.72,68.61 L225.08,68.94 L225.45,69.25 L225.84,69.54 L226.23,69.82 L226.63,70.08 L227.05,70.35 L227.49,70.63 L227.95,70.91 L228.41,71.15 L228.88,71.36 L229.36,71.51 L229.82,71.59 L230.28,71.59 L230.75,71.51 L231.22,71.38 L231.70,71.21 L232.18,71.00 L232.65,70.76 L233.11,70.50 L233.56,70.24 L234.00,69.98 L234.42,69.73 L234.82,69.45 L235.20,69.14 L235.57,68.80 L235.94,68.45 L236.31,68.10 L236.69,67.76 L237.07,67.44 L237.47,67.14 L237.87,66.84 L238.27,66.55 L238.68,66.25 L239.09,65.97 L239.50,65.68 L239.91,65.39 L240.31,65.10 L240.72,64.81 L241.12,64.51 L241.52,64.21 L241.91,63.90 L242.31,63.58 L242.70,63.27 L243.08,62.95 L243.47,62.63 L243.86,62.31 L244.25,62.00 L244.64,61.68 L245.04,61.38 L245.44,61.07 L245.84,60.78 L246.24,60.49 L246.66,60.22 L247.07,59.95 L247.50,59.70 L247.94,59.46 L248.38,59.23 L248.83,59.00 L249.28,58.77 L249.72,58.54 L250.17,58.31 L250.61,58.07 L251.04,57.83 L251.48,57.58 L251.92,57.33 L252.36,57.09 L252.80,56.84 L253.24,56.61 L253.68,56.38 L254.13,56.16 L254.58,55.95 L255.04,55.76 L255.50,55.59 L255.97,55.42 L256.44,55.27 L256.92,55.13 L257.40,54.99 L257.89,54.85 L258.37,54.72 L258.85,54.58 L259.34,54.44 L259.82,54.30 L260.29,54.14 L260.77,53.98 L261.24,53.82 L261.71,53.66 L262.19,53.52 L262.67,53.38 L263.15,53.25 L263.64,53.13 L264.12,53.00 L264.60,52.88 L265.09,52.77 L265.57,52.65 L266.06,52.54 L266.55,52.43 L267.04,52.33 L267.53,52.23 L268.02,52.13 L268.51,52.04 L269.01,51.95 L269.50,51.87 L270.00,51.80" fill="none" stroke="#ff0000" stroke-width="2.4" stroke-linejoin="round"/>
<path d="M267.5,61.3L268.9,59.3" stroke="#000" stroke-width="2.1" fill="none"/>
<g stroke="#0000ff" stroke-width="2.2" fill="none"><line x1="38.02" y1="45.27" x2="41.58" y2="44.73"/><line x1="49.31" y1="43.49" x2="52.89" y2="43.11"/><line x1="61.20" y1="42.60" x2="64.80" y2="42.40"/><line x1="73.60" y1="42.07" x2="77.20" y2="41.93"/><line x1="85.20" y1="41.57" x2="88.80" y2="41.43"/><line x1="97.70" y1="40.96" x2="101.30" y2="41.04"/><line x1="109.89" y1="41.20" x2="113.11" y2="42.80"/><line x1="118.55" y1="49.31" x2="120.25" y2="52.49"/><line x1="122.06" y1="60.73" x2="122.74" y2="64.27"/><line x1="123.79" y1="72.91" x2="124.21" y2="76.49"/><line x1="124.95" y1="84.21" x2="125.25" y2="87.79"/><line x1="125.89" y1="96.20" x2="126.11" y2="99.80"/><line x1="126.40" y1="108.10" x2="126.60" y2="111.70"/><line x1="127.19" y1="120.00" x2="127.41" y2="123.60"/><line x1="127.83" y1="131.90" x2="127.97" y2="135.50"/><line x1="128.23" y1="144.50" x2="128.37" y2="148.10"/><line x1="128.82" y1="156.50" x2="128.98" y2="160.10"/><line x1="129.22" y1="168.00" x2="129.38" y2="171.60"/><line x1="129.78" y1="180.30" x2="130.02" y2="183.90"/><line x1="130.76" y1="191.01" x2="131.04" y2="194.59"/><line x1="131.60" y1="201.90" x2="131.60" y2="205.50"/><line x1="132.72" y1="193.59" x2="133.08" y2="190.01"/><line x1="133.78" y1="182.10" x2="134.02" y2="178.50"/><line x1="134.38" y1="170.60" x2="134.62" y2="167.00"/><line x1="135.36" y1="158.69" x2="135.64" y2="155.11"/><line x1="136.20" y1="146.80" x2="136.40" y2="143.20"/><line x1="136.78" y1="134.50" x2="137.02" y2="130.90"/><line x1="137.72" y1="122.59" x2="138.08" y2="119.01"/><line x1="139.01" y1="111.09" x2="139.39" y2="107.51"/><line x1="140.14" y1="99.18" x2="140.66" y2="95.62"/><line x1="142.25" y1="87.34" x2="143.15" y2="83.86"/><line x1="145.60" y1="76.06" x2="147.00" y2="72.74"/><line x1="150.26" y1="66.11" x2="152.74" y2="63.49"/><line x1="160.92" y1="57.85" x2="164.28" y2="56.55"/><line x1="172.63" y1="55.66" x2="176.17" y2="56.34"/><line x1="182.79" y1="60.18" x2="185.61" y2="62.42"/><line x1="190.82" y1="68.74" x2="193.38" y2="71.26"/><line x1="202.30" y1="77.30" x2="202.30" y2="80.90"/><line x1="210.28" y1="74.50" x2="213.12" y2="72.30"/><line x1="219.54" y1="65.66" x2="222.46" y2="63.54"/><line x1="230.31" y1="59.32" x2="233.69" y2="58.08"/><line x1="242.21" y1="56.43" x2="245.79" y2="55.97"/><line x1="254.00" y1="55.66" x2="257.60" y2="55.74"/><line x1="266.01" y1="56.55" x2="269.59" y2="56.85"/></g>
</g>
<rect x="40.3" y="161.2" width="64.4" height="42.5" fill="#fff" stroke="#9a9a9a" stroke-width="0.8"/>
<line x1="44.2" y1="170.6" x2="55.4" y2="170.6" stroke="#000" stroke-width="2.1"/>
<line x1="44.2" y1="185.0" x2="62" y2="185.0" stroke="#ff0000" stroke-width="2.3"/>
<line x1="43.8" y1="199.1" x2="47.1" y2="199.1" stroke="#0000ff" stroke-width="2.2"/>
<line x1="55.6" y1="199.1" x2="58.9" y2="199.1" stroke="#0000ff" stroke-width="2.2"/>
<text x="63.4" y="173.9" font-size="12" font-family="'Liberation Sans', Arial, sans-serif" fill="#000" stroke="#000" stroke-width="0.3">40 deg.</text>
<text x="63.4" y="188.1" font-size="12" font-family="'Liberation Sans', Arial, sans-serif" fill="#ff0000" stroke="#ff0000" stroke-width="0.3">50 deg.</text>
<text x="63.4" y="202.2" font-size="12" font-family="'Liberation Sans', Arial, sans-serif" fill="#0000ff" stroke="#0000ff" stroke-width="0.3">60 deg.</text>
<rect x="39.5" y="36.55" width="230.5" height="169.2" fill="none" stroke="#000" stroke-width="1.5"/><path d="M77.92,205.75v-3.45M77.92,36.55v3.45M116.33,205.75v-3.45M116.33,36.55v3.45M154.75,205.75v-3.45M154.75,36.55v3.45M193.17,205.75v-3.45M193.17,36.55v3.45M231.58,205.75v-3.45M231.58,36.55v3.45M58.71,205.75v-2.25M58.71,36.55v2.25M97.12,205.75v-2.25M97.12,36.55v2.25M135.54,205.75v-2.25M135.54,36.55v2.25M173.96,205.75v-2.25M173.96,36.55v2.25M212.38,205.75v-2.25M212.38,36.55v2.25M250.79,205.75v-2.25M250.79,36.55v2.25M39.5,171.91h3.45M270.0,171.91h-3.45M39.5,138.07h3.45M270.0,138.07h-3.45M39.5,104.23h3.45M270.0,104.23h-3.45M39.5,70.39h3.45M270.0,70.39h-3.45M39.5,188.83h2.25M270.0,188.83h-2.25M39.5,154.99h2.25M270.0,154.99h-2.25M39.5,121.15h2.25M270.0,121.15h-2.25M39.5,87.31h2.25M270.0,87.31h-2.25M39.5,53.47h2.25M270.0,53.47h-2.25" stroke="#000" stroke-width="1.25" fill="none"/>
<text x="39.50" y="219.1" font-size="11.4" text-anchor="middle" font-family="'Liberation Sans', Arial, sans-serif" stroke="#000" stroke-width="0.3">700</text>
<text x="77.92" y="219.1" font-size="11.4" text-anchor="middle" font-family="'Liberation Sans', Arial, sans-serif" stroke="#000" stroke-width="0.3">750</text>
<text x="116.33" y="219.1" font-size="11.4" text-anchor="middle" font-family="'Liberation Sans', Arial, sans-serif" stroke="#000" stroke-width="0.3">800</text>
<text x="154.75" y="219.1" font-size="11.4" text-anchor="middle" font-family="'Liberation Sans', Arial, sans-serif" stroke="#000" stroke-width="0.3">850</text>
<text x="193.17" y="219.1" font-size="11.4" text-anchor="middle" font-family="'Liberation Sans', Arial, sans-serif" stroke="#000" stroke-width="0.3">900</text>
<text x="231.58" y="219.1" font-size="11.4" text-anchor="middle" font-family="'Liberation Sans', Arial, sans-serif" stroke="#000" stroke-width="0.3">950</text>
<text x="270.00" y="219.1" font-size="11.4" text-anchor="middle" font-family="'Liberation Sans', Arial, sans-serif" stroke="#000" stroke-width="0.3">1000</text>
<text x="35.3" y="210.30" font-size="11.4" text-anchor="end" font-family="'Liberation Sans', Arial, sans-serif" stroke="#000" stroke-width="0.3">0.0</text>
<text x="35.3" y="176.22" font-size="11.4" text-anchor="end" font-family="'Liberation Sans', Arial, sans-serif" stroke="#000" stroke-width="0.3">0.2</text>
<text x="35.3" y="142.14" font-size="11.4" text-anchor="end" font-family="'Liberation Sans', Arial, sans-serif" stroke="#000" stroke-width="0.3">0.4</text>
<text x="35.3" y="108.06" font-size="11.4" text-anchor="end" font-family="'Liberation Sans', Arial, sans-serif" stroke="#000" stroke-width="0.3">0.6</text>
<text x="35.3" y="73.98" font-size="11.4" text-anchor="end" font-family="'Liberation Sans', Arial, sans-serif" stroke="#000" stroke-width="0.3">0.8</text>
<text x="35.3" y="39.90" font-size="11.4" text-anchor="end" font-family="'Liberation Sans', Arial, sans-serif" stroke="#000" stroke-width="0.3">1.0</text>
<text x="154.4" y="233.5" font-size="13.3" text-anchor="middle" font-family="'Liberation Sans', Arial, sans-serif" stroke="#000" stroke-width="0.3">Wavelength (nm)</text>
<text transform="translate(14.1,123.5) rotate(-90)" font-size="12.5" text-anchor="middle" font-family="'Liberation Sans', Arial, sans-serif" stroke="#000" stroke-width="0.3">R (a.u)</text>
<text x="34.3" y="18.8" font-size="16.2" textLength="18.8" lengthAdjust="spacingAndGlyphs" font-family="'Liberation Sans', Arial, sans-serif" stroke="#000" stroke-width="0.3">(a)</text>
<rect x="315.0" y="37.7" width="77.89999999999998" height="168.39999999999998" fill="#8e8e8e"/>
<rect x="392.9" y="37.7" width="52.700000000000045" height="168.39999999999998" fill="#65a3d6"/>
<rect x="445.6" y="37.7" width="4.5" height="168.39999999999998" fill="#ffd966"/>
<rect x="450.1" y="37.7" width="95.0" height="168.39999999999998" fill="#ff6666"/>
<text x="323.6" y="49.8" font-size="12.7" textLength="60.6" lengthAdjust="spacingAndGlyphs" font-family="'Liberation Sans', Arial, sans-serif" font-weight="bold" fill="#767171">Substrate</text>
<text x="407.3" y="49.7" font-size="12.7" textLength="26.8" lengthAdjust="spacingAndGlyphs" font-family="'Liberation Sans', Arial, sans-serif" font-weight="bold" fill="#0070c0" stroke="#0070c0" stroke-width="0.3">DBR</text>
<text x="488.2" y="49.6" font-size="12.7" textLength="17.8" lengthAdjust="spacingAndGlyphs" font-family="'Liberation Sans', Arial, sans-serif" font-weight="bold" fill="#ff0000" stroke="#ff0000" stroke-width="0.2">Air</text>
<clipPath id="cb"><rect x="315.0" y="37.7" width="230.10000000000002" height="168.39999999999998"/></clipPath>
<g clip-path="url(#cb)"><path d="M315.60,186.90 L315.83,187.12 L316.06,187.40 L316.29,187.76 L316.52,188.18 L316.75,188.67 L316.98,189.23 L317.21,189.85 L317.44,190.53 L317.67,191.27 L317.90,192.07 L318.13,192.92 L318.37,193.82 L318.60,194.76 L318.83,195.75 L319.06,196.78 L319.29,197.84 L319.52,198.93 L319.75,200.04 L319.98,201.16 L320.21,202.28 L320.44,203.37 L320.67,204.33 L320.90,204.80 L320.90,204.80 L321.19,204.45 L321.48,203.69 L321.77,202.81 L322.07,201.88 L322.36,200.94 L322.65,200.01 L322.94,199.10 L323.23,198.21 L323.52,197.35 L323.81,196.52 L324.10,195.72 L324.40,194.97 L324.69,194.25 L324.98,193.58 L325.27,192.96 L325.56,192.38 L325.85,191.86 L326.14,191.39 L326.43,190.98 L326.73,190.62 L327.02,190.32 L327.31,190.08 L327.60,189.90 L327.60,189.90 L327.83,190.08 L328.06,190.33 L328.29,190.63 L328.52,190.98 L328.75,191.40 L328.98,191.87 L329.21,192.39 L329.44,192.96 L329.67,193.59 L329.90,194.26 L330.13,194.98 L330.37,195.74 L330.60,196.53 L330.83,197.37 L331.06,198.24 L331.29,199.13 L331.52,200.05 L331.75,200.99 L331.98,201.93 L332.21,202.88 L332.44,203.79 L332.67,204.60 L332.90,205.00 L332.90,205.00 L333.19,204.58 L333.47,203.74 L333.76,202.79 L334.05,201.81 L334.33,200.83 L334.62,199.87 L334.91,198.92 L335.20,198.00 L335.48,197.10 L335.77,196.24 L336.06,195.42 L336.34,194.64 L336.63,193.90 L336.92,193.20 L337.20,192.56 L337.49,191.97 L337.78,191.43 L338.07,190.94 L338.35,190.52 L338.64,190.15 L338.93,189.84 L339.21,189.59 L339.50,189.40 L339.50,189.40 L339.74,189.59 L339.98,189.83 L340.22,190.14 L340.46,190.50 L340.70,190.93 L340.93,191.40 L341.17,191.93 L341.41,192.52 L341.65,193.15 L341.89,193.83 L342.13,194.56 L342.37,195.33 L342.61,196.14 L342.85,196.98 L343.09,197.85 L343.33,198.74 L343.57,199.65 L343.80,200.57 L344.04,201.48 L344.28,202.35 L344.52,203.15 L344.76,203.76 L345.00,204.00 L345.00,204.00 L345.26,203.69 L345.52,202.95 L345.78,202.00 L346.04,200.98 L346.30,199.93 L346.57,198.87 L346.83,197.83 L347.09,196.81 L347.35,195.82 L347.61,194.86 L347.87,193.94 L348.13,193.07 L348.39,192.24 L348.65,191.46 L348.91,190.74 L349.17,190.08 L349.43,189.47 L349.70,188.93 L349.96,188.45 L350.22,188.04 L350.48,187.69 L350.74,187.41 L351.00,187.20 L351.00,187.20 L351.27,187.41 L351.55,187.70 L351.82,188.05 L352.10,188.46 L352.37,188.95 L352.64,189.49 L352.92,190.10 L353.19,190.77 L353.47,191.50 L353.74,192.29 L354.01,193.12 L354.29,194.01 L354.56,194.94 L354.83,195.91 L355.11,196.92 L355.38,197.97 L355.66,199.04 L355.93,200.13 L356.20,201.23 L356.48,202.34 L356.75,203.40 L357.03,204.34 L357.30,204.80 L357.30,204.80 L357.56,204.42 L357.82,203.61 L358.08,202.67 L358.34,201.69 L358.60,200.70 L358.87,199.73 L359.13,198.77 L359.39,197.83 L359.65,196.92 L359.91,196.05 L360.17,195.21 L360.43,194.42 L360.69,193.67 L360.95,192.96 L361.21,192.31 L361.47,191.71 L361.73,191.16 L362.00,190.67 L362.26,190.24 L362.52,189.86 L362.78,189.55 L363.04,189.29 L363.30,189.10 L363.30,189.10 L363.57,189.29 L363.85,189.55 L364.12,189.86 L364.40,190.24 L364.67,190.67 L364.94,191.16 L365.22,191.71 L365.49,192.31 L365.77,192.97 L366.04,193.67 L366.31,194.43 L366.59,195.22 L366.86,196.06 L367.13,196.93 L367.41,197.84 L367.68,198.78 L367.96,199.74 L368.23,200.72 L368.50,201.72 L368.78,202.70 L369.05,203.66 L369.33,204.50 L369.60,204.90 L369.60,204.90 L369.83,204.57 L370.05,203.86 L370.28,203.03 L370.50,202.17 L370.73,201.30 L370.96,200.43 L371.18,199.58 L371.41,198.75 L371.63,197.94 L371.86,197.17 L372.09,196.43 L372.31,195.72 L372.54,195.06 L372.77,194.43 L372.99,193.85 L373.22,193.32 L373.44,192.83 L373.67,192.39 L373.90,192.01 L374.12,191.68 L374.35,191.40 L374.57,191.17 L374.80,191.00 L374.80,191.00 L375.00,191.17 L375.21,191.39 L375.41,191.67 L375.62,192.00 L375.82,192.39 L376.03,192.82 L376.23,193.31 L376.43,193.84 L376.64,194.42 L376.84,195.04 L377.05,195.70 L377.25,196.40 L377.46,197.14 L377.66,197.91 L377.87,198.71 L378.07,199.53 L378.27,200.37 L378.48,201.22 L378.68,202.07 L378.89,202.91 L379.09,203.69 L379.30,204.33 L379.50,204.60 L379.50,204.60 L379.75,204.13 L380.00,203.15 L380.24,202.02 L380.49,200.85 L380.74,199.67 L380.99,198.50 L381.23,197.35 L381.48,196.23 L381.73,195.15 L381.98,194.10 L382.23,193.11 L382.47,192.15 L382.72,191.26 L382.97,190.42 L383.22,189.63 L383.47,188.92 L383.71,188.26 L383.96,187.67 L384.21,187.16 L384.46,186.71 L384.70,186.33 L384.95,186.03 L385.20,185.80 L385.20,185.80 L385.37,186.02 L385.53,186.30 L385.70,186.65 L385.86,187.07 L386.03,187.56 L386.19,188.11 L386.36,188.72 L386.52,189.39 L386.69,190.11 L386.85,190.89 L387.02,191.71 L387.18,192.57 L387.35,193.47 L387.51,194.40 L387.68,195.35 L387.84,196.30 L388.01,197.25 L388.17,198.17 L388.34,199.04 L388.50,199.81 L388.67,200.44 L388.83,200.85 L389.00,201.00 L389.00,201.00 L389.23,200.68 L389.45,199.83 L389.68,198.64 L389.90,197.26 L390.13,195.77 L390.36,194.25 L390.58,192.72 L390.81,191.20 L391.03,189.72 L391.26,188.27 L391.49,186.88 L391.71,185.56 L391.94,184.30 L392.17,183.12 L392.39,182.02 L392.62,181.01 L392.84,180.08 L393.07,179.25 L393.30,178.52 L393.52,177.89 L393.75,177.36 L393.97,176.93 L394.20,176.60 L394.20,176.60 L394.37,176.92 L394.53,177.34 L394.70,177.87 L394.86,178.49 L395.03,179.22 L395.19,180.03 L395.36,180.94 L395.52,181.94 L395.69,183.02 L395.85,184.18 L396.02,185.41 L396.18,186.71 L396.35,188.07 L396.51,189.47 L396.68,190.92 L396.84,192.38 L397.01,193.85 L397.17,195.29 L397.34,196.68 L397.50,197.95 L397.67,199.01 L397.83,199.74 L398.00,200.00 L398.00,200.00 L398.21,199.51 L398.43,198.23 L398.64,196.47 L398.85,194.49 L399.07,192.39 L399.28,190.25 L399.49,188.11 L399.70,186.01 L399.92,183.95 L400.13,181.96 L400.34,180.04 L400.56,178.21 L400.77,176.48 L400.98,174.86 L401.20,173.35 L401.41,171.95 L401.62,170.68 L401.83,169.54 L402.05,168.54 L402.26,167.67 L402.47,166.94 L402.69,166.35 L402.90,165.90 L402.90,165.90 L403.08,166.35 L403.27,166.95 L403.45,167.69 L403.63,168.56 L403.81,169.58 L404.00,170.73 L404.18,172.02 L404.36,173.43 L404.54,174.96 L404.73,176.61 L404.91,178.37 L405.09,180.22 L405.27,182.18 L405.46,184.21 L405.64,186.32 L405.82,188.48 L406.00,190.69 L406.19,192.93 L406.37,195.15 L406.55,197.32 L406.73,199.30 L406.92,200.86 L407.10,201.50 L407.10,201.50 L407.30,200.50 L407.51,198.23 L407.71,195.51 L407.92,192.63 L408.12,189.71 L408.33,186.80 L408.53,183.93 L408.73,181.13 L408.94,178.41 L409.14,175.79 L409.35,173.28 L409.55,170.89 L409.76,168.63 L409.96,166.50 L410.17,164.53 L410.37,162.70 L410.57,161.04 L410.78,159.55 L410.98,158.22 L411.19,157.07 L411.39,156.10 L411.60,155.31 L411.80,154.70 L411.80,154.70 L411.97,155.31 L412.14,156.10 L412.31,157.07 L412.48,158.21 L412.65,159.53 L412.82,161.02 L412.99,162.68 L413.16,164.50 L413.33,166.47 L413.50,168.58 L413.67,170.84 L413.83,173.22 L414.00,175.72 L414.17,178.32 L414.34,181.02 L414.51,183.80 L414.68,186.64 L414.85,189.51 L415.02,192.39 L415.19,195.20 L415.36,197.81 L415.53,199.91 L415.70,200.80 L415.70,200.80 L415.91,199.54 L416.12,196.74 L416.33,193.41 L416.53,189.89 L416.74,186.33 L416.95,182.77 L417.16,179.26 L417.37,175.81 L417.58,172.45 L417.79,169.19 L418.00,166.05 L418.20,163.02 L418.41,160.14 L418.62,157.39 L418.83,154.80 L419.04,152.37 L419.25,150.11 L419.46,148.02 L419.67,146.10 L419.87,144.37 L420.08,142.83 L420.29,141.47 L420.50,140.30 L420.50,140.30 L420.66,141.47 L420.81,142.83 L420.97,144.37 L421.13,146.10 L421.28,148.01 L421.44,150.10 L421.60,152.36 L421.75,154.79 L421.91,157.38 L422.07,160.12 L422.22,163.00 L422.38,166.02 L422.53,169.16 L422.69,172.42 L422.85,175.77 L423.00,179.21 L423.16,182.71 L423.32,186.25 L423.47,189.80 L423.63,193.28 L423.79,196.57 L423.94,199.30 L424.10,200.50 L424.10,200.50 L424.33,198.85 L424.57,195.34 L424.80,191.25 L425.04,186.97 L425.27,182.65 L425.51,178.33 L425.74,174.04 L425.98,169.82 L426.21,165.67 L426.45,161.60 L426.68,157.64 L426.92,153.79 L427.15,150.06 L427.39,146.46 L427.62,142.99 L427.86,139.67 L428.09,136.49 L428.33,133.47 L428.56,130.61 L428.80,127.90 L429.03,125.37 L429.27,123.00 L429.50,120.80 L429.50,120.80 L429.63,122.99 L429.77,125.35 L429.90,127.88 L430.04,130.57 L430.17,133.42 L430.31,136.43 L430.44,139.59 L430.58,142.90 L430.71,146.35 L430.85,149.93 L430.98,153.64 L431.12,157.47 L431.25,161.40 L431.39,165.43 L431.52,169.54 L431.66,173.71 L431.79,177.93 L431.93,182.16 L432.06,186.36 L432.20,190.45 L432.33,194.25 L432.47,197.31 L432.60,198.60 L432.60,198.60 L432.83,196.72 L433.07,192.58 L433.30,187.64 L433.54,182.42 L433.77,177.09 L434.01,171.70 L434.24,166.30 L434.48,160.92 L434.71,155.56 L434.95,150.23 L435.18,144.94 L435.42,139.71 L435.65,134.53 L435.89,129.41 L436.12,124.36 L436.36,119.37 L436.59,114.45 L436.83,109.61 L437.06,104.85 L437.30,100.17 L437.53,95.56 L437.77,91.04 L438.00,86.60 L438.00,86.60 L438.15,91.00 L438.30,95.48 L438.46,100.04 L438.61,104.68 L438.76,109.39 L438.91,114.17 L439.07,119.03 L439.22,123.95 L439.37,128.93 L439.52,133.97 L439.67,139.05 L439.83,144.19 L439.98,149.35 L440.13,154.54 L440.28,159.73 L440.43,164.91 L440.59,170.05 L440.74,175.10 L440.89,179.98 L441.04,184.56 L441.20,188.56 L441.35,191.48 L441.50,192.60 L441.50,192.60 L441.71,190.91 L441.93,186.71 L442.14,181.26 L442.35,175.22 L442.57,168.90 L442.78,162.44 L442.99,155.92 L443.20,149.37 L443.42,142.83 L443.63,136.32 L443.84,129.84 L444.06,123.42 L444.27,117.05 L444.48,110.76 L444.70,104.54 L444.91,98.40 L445.12,92.35 L445.33,86.38 L445.55,80.51 L445.76,74.74 L445.97,69.06 L446.19,63.48 L446.40,58.00 L446.40,58.00 L447.20,66.00 L448.00,90.00 L448.80,130.00 L449.50,165.00 L449.80,174.50 L449.80,174.50 L450.40,167.00 L451.20,161.00 L451.20,161.00 L451.60,161.51 L452.01,162.18 L452.41,163.00 L452.82,163.99 L453.22,165.13 L453.63,166.43 L454.03,167.87 L454.43,169.45 L454.84,171.17 L455.24,173.02 L455.65,174.99 L456.05,177.08 L456.46,179.27 L456.86,181.55 L457.27,183.92 L457.67,186.35 L458.07,188.83 L458.48,191.34 L458.88,193.84 L459.29,196.28 L459.69,198.51 L460.10,200.28 L460.50,201.00 L460.50,201.00 L461.04,200.33 L461.58,198.67 L462.12,196.55 L462.66,194.22 L463.20,191.82 L463.73,189.40 L464.27,186.99 L464.81,184.62 L465.35,182.30 L465.89,180.06 L466.43,177.88 L466.97,175.80 L467.51,173.81 L468.05,171.93 L468.59,170.15 L469.13,168.49 L469.67,166.94 L470.20,165.52 L470.74,164.23 L471.28,163.07 L471.82,162.05 L472.36,161.16 L472.90,160.40 L472.90,160.40 L473.41,161.06 L473.93,161.87 L474.44,162.83 L474.95,163.92 L475.47,165.16 L475.98,166.54 L476.49,168.05 L477.00,169.69 L477.52,171.46 L478.03,173.34 L478.54,175.33 L479.06,177.43 L479.57,179.62 L480.08,181.89 L480.60,184.24 L481.11,186.65 L481.62,189.10 L482.13,191.57 L482.65,194.02 L483.16,196.41 L483.67,198.59 L484.19,200.30 L484.70,201.00 L484.70,201.00 L485.14,200.38 L485.58,198.84 L486.02,196.84 L486.46,194.62 L486.90,192.32 L487.33,189.97 L487.77,187.63 L488.21,185.29 L488.65,182.99 L489.09,180.72 L489.53,178.50 L489.97,176.34 L490.41,174.24 L490.85,172.20 L491.29,170.23 L491.73,168.34 L492.17,166.52 L492.60,164.79 L493.04,163.14 L493.48,161.57 L493.92,160.09 L494.36,158.70 L494.80,157.40 L495.20,159.40 L495.70,161.60 L496.60,160.40 L497.90,159.90 L497.90,159.90 L498.37,160.56 L498.85,161.37 L499.32,162.33 L499.80,163.43 L500.27,164.67 L500.74,166.05 L501.22,167.56 L501.69,169.20 L502.17,170.97 L502.64,172.85 L503.11,174.83 L503.59,176.92 L504.06,179.10 L504.53,181.36 L505.01,183.68 L505.48,186.05 L505.96,188.45 L506.43,190.85 L506.90,193.20 L507.38,195.43 L507.85,197.40 L508.33,198.85 L508.80,199.40 L508.80,199.40 L509.32,198.90 L509.84,197.59 L510.37,195.77 L510.89,193.68 L511.41,191.46 L511.93,189.16 L512.45,186.84 L512.97,184.52 L513.50,182.22 L514.02,179.95 L514.54,177.72 L515.06,175.54 L515.58,173.42 L516.10,171.37 L516.63,169.38 L517.15,167.47 L517.67,165.63 L518.19,163.88 L518.71,162.21 L519.23,160.62 L519.76,159.13 L520.28,157.72 L520.80,156.40 L520.80,156.40 L521.33,157.22 L521.87,158.18 L522.40,159.29 L522.94,160.54 L523.47,161.94 L524.01,163.47 L524.54,165.14 L525.08,166.93 L525.61,168.85 L526.15,170.88 L526.68,173.03 L527.22,175.27 L527.75,177.61 L528.29,180.02 L528.82,182.50 L529.36,185.03 L529.89,187.60 L530.43,190.16 L530.96,192.67 L531.50,195.07 L532.03,197.20 L532.57,198.79 L533.10,199.40 L533.10,199.40 L533.61,198.82 L534.12,197.33 L534.63,195.30 L535.13,193.00 L535.64,190.58 L536.15,188.10 L536.66,185.62 L537.17,183.17 L537.68,180.75 L538.19,178.40 L538.70,176.12 L539.20,173.91 L539.71,171.80 L540.22,169.79 L540.73,167.88 L541.24,166.09 L541.75,164.41 L542.26,162.85 L542.77,161.42 L543.27,160.12 L543.78,158.94 L544.29,157.91 L544.80,157.00" fill="none" stroke="#0000ff" stroke-width="2.1" stroke-linejoin="round"/></g>
<rect x="315.0" y="37.7" width="230.10000000000002" height="168.39999999999998" fill="none" stroke="#000" stroke-width="1.5"/><path d="M351.23,206.1v-3.45M351.23,37.7v3.45M387.46,206.1v-3.45M387.46,37.7v3.45M423.69,206.1v-3.45M423.69,37.7v3.45M459.92,206.1v-3.45M459.92,37.7v3.45M496.15,206.1v-3.45M496.15,37.7v3.45M532.38,206.1v-3.45M532.38,37.7v3.45M333.12,206.1v-2.25M333.12,37.7v2.25M369.35,206.1v-2.25M369.35,37.7v2.25M405.57,206.1v-2.25M405.57,37.7v2.25M441.81,206.1v-2.25M441.81,37.7v2.25M478.03,206.1v-2.25M478.03,37.7v2.25M514.26,206.1v-2.25M514.26,37.7v2.25M315.0,172.42h3.45M545.1,172.42h-3.45M315.0,138.74h3.45M545.1,138.74h-3.45M315.0,105.06h3.45M545.1,105.06h-3.45M315.0,71.38h3.45M545.1,71.38h-3.45M315.0,189.26h2.25M545.1,189.26h-2.25M315.0,155.58h2.25M545.1,155.58h-2.25M315.0,121.90h2.25M545.1,121.90h-2.25M315.0,88.22h2.25M545.1,88.22h-2.25M315.0,54.54h2.25M545.1,54.54h-2.25" stroke="#000" stroke-width="1.25" fill="none"/>
<text x="315.00" y="219.1" font-size="11.4" text-anchor="middle" font-family="'Liberation Sans', Arial, sans-serif" stroke="#000" stroke-width="0.3">0</text>
<text x="351.23" y="219.1" font-size="11.4" text-anchor="middle" font-family="'Liberation Sans', Arial, sans-serif" stroke="#000" stroke-width="0.3">1</text>
<text x="387.46" y="219.1" font-size="11.4" text-anchor="middle" font-family="'Liberation Sans', Arial, sans-serif" stroke="#000" stroke-width="0.3">2</text>
<text x="423.69" y="219.1" font-size="11.4" text-anchor="middle" font-family="'Liberation Sans', Arial, sans-serif" stroke="#000" stroke-width="0.3">3</text>
<text x="459.92" y="219.1" font-size="11.4" text-anchor="middle" font-family="'Liberation Sans', Arial, sans-serif" stroke="#000" stroke-width="0.3">4</text>
<text x="496.15" y="219.1" font-size="11.4" text-anchor="middle" font-family="'Liberation Sans', Arial, sans-serif" stroke="#000" stroke-width="0.3">5</text>
<text x="532.38" y="219.1" font-size="11.4" text-anchor="middle" font-family="'Liberation Sans', Arial, sans-serif" stroke="#000" stroke-width="0.3">6</text>
<text x="311.1" y="210.50" font-size="11.4" text-anchor="end" font-family="'Liberation Sans', Arial, sans-serif" stroke="#000" stroke-width="0.3">0.0</text>
<text x="311.1" y="176.58" font-size="11.4" text-anchor="end" font-family="'Liberation Sans', Arial, sans-serif" stroke="#000" stroke-width="0.3">0.4</text>
<text x="311.1" y="142.66" font-size="11.4" text-anchor="end" font-family="'Liberation Sans', Arial, sans-serif" stroke="#000" stroke-width="0.3">0.8</text>
<text x="311.1" y="108.74" font-size="11.4" text-anchor="end" font-family="'Liberation Sans', Arial, sans-serif" stroke="#000" stroke-width="0.3">1.2</text>
<text x="311.1" y="74.82" font-size="11.4" text-anchor="end" font-family="'Liberation Sans', Arial, sans-serif" stroke="#000" stroke-width="0.3">1.6</text>
<text x="311.1" y="40.90" font-size="11.4" text-anchor="end" font-family="'Liberation Sans', Arial, sans-serif" stroke="#000" stroke-width="0.3">2.0</text>
<text x="430" y="234.5" font-size="13.4" text-anchor="middle" font-family="'Liberation Sans', Arial, sans-serif" stroke="#000" stroke-width="0.3">Position (μm)</text>
<text transform="translate(291.9,120.45) rotate(-90)" font-size="13.2" text-anchor="middle" font-family="'Liberation Sans', Arial, sans-serif" stroke="#000" stroke-width="0.3">Electric Field Norm(10<tspan font-size="8.5" dy="-4.8">5</tspan><tspan dy="4.8"> V/m)</tspan></text>
<text x="311.3" y="18.6" font-size="16.2" textLength="18.8" lengthAdjust="spacingAndGlyphs" font-family="'Liberation Sans', Arial, sans-serif" stroke="#000" stroke-width="0.3">(b)</text>
<text x="418.4" y="11.7" font-size="11.6" textLength="51.8" lengthAdjust="spacingAndGlyphs" font-family="'Liberation Sans', Arial, sans-serif" font-weight="bold" fill="#000" stroke="#000" stroke-width="0.2">Graphene</text>
<text x="478" y="24.2" font-size="11.6" textLength="24.2" lengthAdjust="spacingAndGlyphs" font-family="'Liberation Sans', Arial, sans-serif" font-weight="bold" fill="#ffbb11" stroke="#ffbb11" stroke-width="0.3">Gold</text>
<path d="M445.6,15.4V31.5" stroke="#000" stroke-width="1.5" stroke-dasharray="3.7 2.4" fill="none"/>
<path d="M443.8,31.2 L447.4,31.2 L445.6,36.0Z" fill="#000"/>
<path d="M448.4,45.2 L474,22.5" stroke="#ffbb11" stroke-width="1.8" fill="none"/>
<path d="M476.2,20.5 L470.6,22.4 L473.9,26.1Z" fill="#ffbb11"/>
</g>
</svg>
</body></html>
